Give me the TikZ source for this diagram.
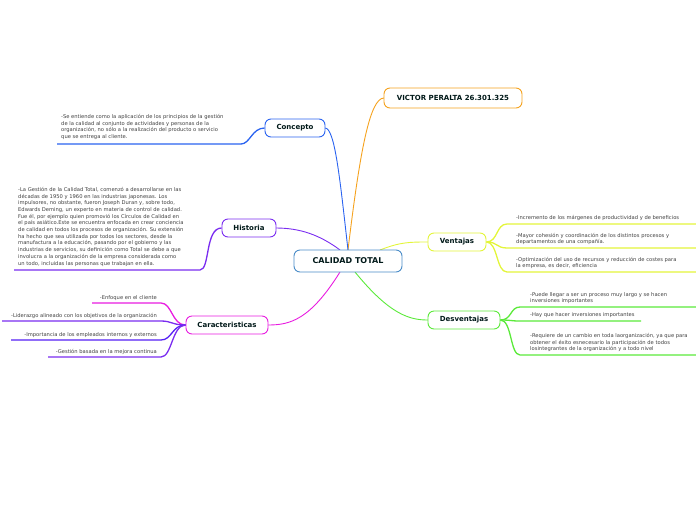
\documentclass[tikz,border=0pt]{standalone}
\usepackage{fontspec}
\setmainfont{DejaVu Sans}
\begin{document}
\begin{tikzpicture}[x=1pt,y=-1pt,
 topic/.style={draw,rounded corners=6pt,line width=0.9pt,fill=white,font=\fontsize{7}{8}\selectfont\bfseries,text=black!80!teal,minimum height=18pt,inner sep=2pt},
 leaf/.style={font=\fontsize{5.2}{6.7}\selectfont,text=black!75,align=left,inner sep=0pt},
 con/.style={line width=0.9pt}]
\useasboundingbox (0,0) rectangle (696,520);
\definecolor{cblue}{HTML}{2A63F0}
\definecolor{cpurp}{HTML}{7A2CF0}
\definecolor{cmag}{HTML}{E81CE0}
\definecolor{cyel}{HTML}{E3F53A}
\definecolor{cgrn}{HTML}{5BEA3A}
\definecolor{corg}{HTML}{F5A21E}
\definecolor{cmain}{HTML}{4A8CC8}
\draw[con,corg] (348,250) .. controls (360,150) and (370,98) .. (384,98);
\draw[con,cblue] (348,250) .. controls (340,180) and (335,128) .. (325,128);
\draw[con,cpurp] (340,250) .. controls (320,235) and (300,228) .. (276,228);
\draw[con,cmag] (340,272) .. controls (310,320) and (290,325) .. (268,325);
\draw[con,cyel] (380,250) .. controls (400,242) and (410,242) .. (428,242);
\draw[con,cgrn] (355,272) .. controls (390,315) and (410,320) .. (428,320);
\node[topic,draw=cmain,minimum width=108pt,minimum height=22pt,font=\fontsize{8}{9}\selectfont\bfseries] (c) at (348,261) {CALIDAD TOTAL};
\node[topic,draw=corg,minimum width=138pt,minimum height=20pt] (v) at (453,98) {VICTOR PERALTA 26.301.325};
\node[topic,draw=cblue,minimum width=60pt] (k) at (295,128) {Concepto};
\node[topic,draw=cpurp,minimum width=54pt] (h) at (249,228) {Historia};
\node[topic,draw=cmag,minimum width=82pt] (ca) at (227,325) {Caracteristicas};
\node[topic,draw=cyel,minimum width=58pt] (ve) at (457,242) {Ventajas};
\node[topic,draw=cgrn,minimum width=72pt] (de) at (464,320) {Desventajas};
\node[leaf,anchor=north west] (k1) at (61,114) {-Se entiende como la aplicación de los principios de la gestión\\de la calidad al conjunto de actividades y personas de la\\organización, no sólo a la realización del producto o servicio\\que se entrega al cliente.};
\draw[line width=1.3pt,cblue] (57,144) -- (241,144) .. controls (250,144) and (252,128) .. (k.west);
\node[leaf,anchor=north west] (h1) at (18,187) {-La Gestión de la Calidad Total, comenzó a desarrollarse en las\\décadas de 1950 y 1960 en las industrias japonesas. Los\\impulsores, no obstante, fueron Joseph Duran y, sobre todo,\\Edwards Deming, un experto en materia de control de calidad.\\Fue él, por ejemplo quien promovió los Círculos de Calidad en\\el país asiático.Este se encuentra enfocada en crear conciencia\\de calidad en todos los procesos de organización. Su extensión\\ha hecho que sea utilizada por todos los sectores, desde la\\manufactura a la educación, pasando por el gobierno y las\\industrias de servicios, su definición como Total se debe a que\\involucra a la organización de la empresa considerada como\\un todo, incluidas las personas que trabajan en ella.};
\draw[line width=1.3pt,cpurp] (14,270) -- (200,270) .. controls (210,270) and (205,228) .. (h.west);
\foreach \y/\xa/\t/\cc [count=\i] in {303/92/{-Enfoque en el cliente}/cmag,321/2/{-Liderazgo alineado con los objetivos de la organización}/cpurp,340/11/{-Importancia de los empleados internos y externos}/cpurp!70!blue,357/48/{-Gestión basada en la mejora continua}/cpurp}{
 \node[leaf,anchor=south east] (ca\i) at (157,\y-2) {\t};
 \draw[line width=1.3pt,\cc] (\xa,\y) -- (161,\y) .. controls (172,\y) and (172,325) .. (ca.west);
}
\node[leaf,anchor=south west] (ve1) at (516,221) {-Incremento de los márgenes de productividad y de beneficios};
\node[leaf,anchor=south west] (ve2) at (516,245) {-Mayor cohesión y coordinación de los distintos procesos y\\departamentos de una compañía.};
\node[leaf,anchor=south west] (ve3) at (516,269) {-Optimización del uso de recursos y reducción de costes para\\la empresa, es decir, eficiencia};
\foreach \y in {224,248,272}{
 \draw[line width=1.3pt,cyel] (ve.east) .. controls (498,242) and (496,\y) .. (507,\y) -- (696,\y);
}
\node[leaf,anchor=south west] (de1) at (530,304) {-Puede llegar a ser un proceso muy largo y se hacen\\inversiones importantes};
\node[leaf,anchor=south west] (de2) at (530,318) {-Hay que hacer inversiones importantes};
\node[leaf,anchor=south west] (de3) at (530,352) {-Requiere de un cambio en toda laorganización, ya que para\\obtener el éxito esnecesario la participación de todos\\losintegrantes de la organización y a todo nivel};
\foreach \y/\xe in {307/696,321/641,355/696}{
 \draw[line width=1.3pt,cgrn] (de.east) .. controls (512,320) and (510,\y) .. (520,\y) -- (\xe,\y);
}
\end{tikzpicture}
\end{document}
